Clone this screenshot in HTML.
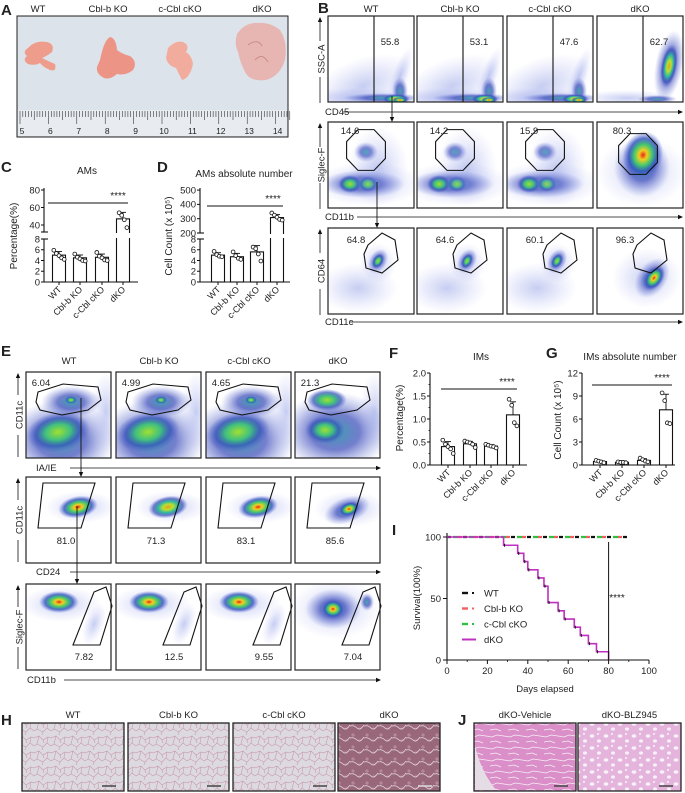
<!DOCTYPE html>
<html><head><meta charset="utf-8"><style>
html,body{margin:0;padding:0;background:#fff}
svg{display:block;font-family:"Liberation Sans",Arial,sans-serif}
</style></head><body>
<svg id="fig" width="685" height="793" viewBox="0 0 685 793" xmlns="http://www.w3.org/2000/svg">
<defs>
<radialGradient id="gHot"><stop offset="0" stop-color="#e8261a"/><stop offset="0.2" stop-color="#f0d020"/><stop offset="0.45" stop-color="#40c870"/><stop offset="0.7" stop-color="#3050c0" stop-opacity="0.8"/><stop offset="1" stop-color="#6070d0" stop-opacity="0"/></radialGradient>
<radialGradient id="gWarm"><stop offset="0" stop-color="#e8a020"/><stop offset="0.25" stop-color="#b8e030"/><stop offset="0.5" stop-color="#30b8a0"/><stop offset="0.75" stop-color="#3848b8" stop-opacity="0.7"/><stop offset="1" stop-color="#6070d0" stop-opacity="0"/></radialGradient>
<radialGradient id="gGreen"><stop offset="0" stop-color="#a0e030"/><stop offset="0.4" stop-color="#40c080"/><stop offset="0.7" stop-color="#3050b8" stop-opacity="0.7"/><stop offset="1" stop-color="#5060c8" stop-opacity="0"/></radialGradient>
<radialGradient id="gCool"><stop offset="0" stop-color="#40a8b0"/><stop offset="0.45" stop-color="#3848b8" stop-opacity="0.7"/><stop offset="1" stop-color="#7080d8" stop-opacity="0"/></radialGradient>
<radialGradient id="gFaint"><stop offset="0" stop-color="#8090e0" stop-opacity="0.45"/><stop offset="1" stop-color="#a0a8f0" stop-opacity="0"/></radialGradient>
<pattern id="alv" width="17" height="15" patternUnits="userSpaceOnUse">
<rect width="17" height="15" fill="#dcdae0"/>
<path d="M0 3 L5 1 L9 5 L14 2 L17 3 M5 1 L3 9 L9 12 L13 8 L14 2 M3 9 L0 11 M9 12 L8 15 M13 8 L17 11 M9 5 L10 8" stroke="#c58a9c" stroke-width="0.6" fill="none" opacity="0.8"/>
</pattern>
<pattern id="dense" width="14" height="12" patternUnits="userSpaceOnUse">
<rect width="14" height="12" fill="#98687a"/>
<circle cx="3" cy="3" r="1.6" fill="#b88898"/><circle cx="10" cy="8" r="1.8" fill="#a87084"/>
<path d="M0 6 Q4 5 7 8 T14 5" stroke="#e6dde6" stroke-width="0.7" fill="none"/>
</pattern>
<pattern id="veh" width="18" height="12" patternUnits="userSpaceOnUse">
<rect width="18" height="12" fill="#da8fc9"/>
<path d="M0 4 L6 5 L11 3 L18 4 M4 10 L10 9 L15 11" stroke="#f6eef6" stroke-width="0.8" fill="none"/>
</pattern>
<pattern id="blz" width="14" height="12" patternUnits="userSpaceOnUse">
<rect width="14" height="12" fill="#e4b4dd"/>
<ellipse cx="4" cy="4" rx="2.4" ry="1.8" fill="#f8f2f8"/><ellipse cx="11" cy="9" rx="2" ry="1.6" fill="#f8f2f8"/><circle cx="10" cy="2" r="1" fill="#faf6fa"/>
</pattern>
</defs>
<g id="root"></g>
</svg>
<script>
// ---------- data ----------
const groups = ["WT","Cbl-b KO","c-Cbl cKO","dKO"];
const amPctMeans = [5.0, 4.5, 4.6, 47];
const amPctPoints = [[5.9,5.3,4.9,4.5,4.2],[5.2,4.6,4.3,4.0,3.9],[5.5,4.8,4.5,4.1,4.0],[54,51,46,37]];
const amAbsMeans = [5.0, 4.7, 5.6, 308];
const amAbsPoints = [[5.7,5.1,4.8,4.7],[5.6,4.9,4.4,4.2],[6.5,6.2,5.2,3.9],[340,325,310,295,290]];
const imPctMeans = [0.40, 0.46, 0.41, 1.09];
const imPctPoints = [[0.54,0.45,0.40,0.35,0.25],[0.52,0.50,0.48,0.45,0.38],[0.45,0.43,0.41,0.40,0.37],[1.43,1.30,0.92,0.85]];
const imAbsMeans = [0.45, 0.35, 0.6, 7.2];
const imAbsPoints = [[0.6,0.5,0.4,0.3],[0.4,0.35,0.35,0.3],[0.9,0.7,0.5,0.4],[9.4,8.4,5.5,5.4]];
const survDays = [0,28,35,38,40,45,48,50,55,58,63,66,70,74,80];
const survDKO = [100,93.3,86.7,80,73.3,66.7,60,46.7,40,33.3,26.7,20,13.3,6.7,0];
const survCtrlDays = [0,90];
const survCtrl = [100,100];
const survTicksX = [0,20,40,60,80,100];
const survTicksY = [0,50,100];

const NS="http://www.w3.org/2000/svg";
const root=document.getElementById('root');
function mk(tag,attrs,parent){const e=document.createElementNS(NS,tag);for(const k in attrs)e.setAttribute(k,attrs[k]);(parent||root).appendChild(e);return e;}
function txt(x,y,s,size,parent,anchor,extra){const t=mk('text',Object.assign({x:x,y:y,'font-size':size,'text-anchor':anchor||'middle',fill:'#222'},extra||{}),parent);t.textContent=s;return t;}
function line(x1,y1,x2,y2,w,parent){return mk('line',{x1:x1,y1:y1,x2:x2,y2:y2,stroke:'#111','stroke-width':w||1},parent);}
function arrowH(x1,x2,y,parent){line(x1,y,x2-4,y,0.8,parent);mk('path',{d:`M${x2} ${y} L${x2-5} ${y-2.2} L${x2-5} ${y+2.2}Z`,fill:'#111'},parent);}
function arrowV(x,y1,y2,parent){line(x,y1,x,y2+4,0.8,parent);mk('path',{d:`M${x} ${y2} L${x-2.2} ${y2+5} L${x+2.2} ${y2+5}Z`,fill:'#111'},parent);}
function arrowDown(x,y1,y2,parent){line(x,y1,x,y2-4,0.9,parent);mk('path',{d:`M${x} ${y2} L${x-2.2} ${y2-5} L${x+2.2} ${y2-5}Z`,fill:'#111'},parent);}
function panelLabel(x,y,s){const t=txt(x,y,s,15,root,'start',{'font-weight':'bold'});

}

// ---------- Panel A photo ----------
const gA=mk('g',{});


panelLabel(1,15,'A');
[['WT',38],['Cbl-b KO',108],['c-Cbl cKO',180],['dKO',262]].forEach(d=>txt(d[1],12,d[0],9.5,gA));
mk('rect',{x:17,y:16,width:271,height:121,fill:'#d9dee4',stroke:'#222','stroke-width':1},gA);
mk('rect',{x:18,y:17,width:269,height:93,fill:'#dde3ea'},gA);
mk('rect',{x:18,y:110,width:269,height:26,fill:'#e8ecf0'},gA);
for(let i=0;i<=95;i++){const x=20+i*2.84;line(x,111,x,i%10==0?124:(i%5==0?120:117),0.5,gA);}
for(let n=5;n<=14;n++){txt(22+(n-5)*28.4,134,String(n),8.5,gA);}
mk('path',{d:'M28 48 Q35 40 47 42 Q55 44 52 52 Q47 56 42 58 Q50 62 55 64 Q57 72 50 70 Q43 67 40 63 Q35 66 28 64 Q22 60 27 56 Q22 52 28 48Z',fill:'#ee9c8c'},gA);
mk('path',{d:'M100 60 Q104 40 110 37 Q116 38 117 50 Q122 54 130 56 Q138 62 133 70 Q126 76 117 74 Q110 80 104 78 Q96 74 97 67 Z',fill:'#ec9486'},gA);
mk('path',{d:'M168 48 Q175 40 183 42 Q190 45 186 52 Q192 56 193 64 Q190 78 182 80 Q178 72 176 68 Q168 66 166 58 Z',fill:'#f2ac9e'},gA);
mk('path',{d:'M237 34 Q245 22 258 23 Q270 22 280 30 Q288 42 285 60 Q280 76 266 80 Q250 82 245 72 Q240 62 238 52 Q234 44 237 34Z',fill:'#e8b6b2'},gA);
mk('path',{d:'M248 45 Q258 38 262 46 M255 60 Q262 52 268 62',stroke:'#c98d88','stroke-width':1,fill:'none'},gA);

// ---------- flow helper ----------
let clipN=0;
function fbox(x,y,w,h,name,blobs,gate,label,lx,ly){
 const g=mk('g',{});
 
 
 const cid='clp'+(clipN++);
 const cp=mk('clipPath',{id:cid},g);mk('rect',{x:x,y:y,width:w,height:h},cp);
 mk('rect',{x:x,y:y,width:w,height:h,fill:'#fff'},g);
 const inner=mk('g',{'clip-path':`url(#${cid})`},g);
 blobs.forEach(b=>{mk('ellipse',{cx:x+b[0],cy:y+b[1],rx:b[2],ry:b[3],fill:`url(#${b[4]})`,transform:`rotate(${b[5]||0} ${x+b[0]} ${y+b[1]})`},inner);});
 if(gate){ if(gate.v!==undefined){line(x+gate.v,y,x+gate.v,y+h,1.1,g);} else {mk('polygon',{points:gate.map(p=>(x+p[0])+','+(y+p[1])).join(' '),fill:'none',stroke:'#111','stroke-width':1.1},g);} }
 mk('rect',{x:x,y:y,width:w,height:h,fill:'none',stroke:'#222','stroke-width':1.2},g);
 if(label)txt(x+lx,y+ly,label,9.5,g,'middle');
 return g;
}
function octo(cx,cy,r){const p=[];for(let i=0;i<8;i++){const a=Math.PI/8+i*Math.PI/4;p.push([cx+r*Math.cos(a),cy+r*Math.sin(a)*1.05]);}return p;}

// ---------- Panel B ----------
panelLabel(318,13,'B');
const bx=[328,417,507,597], by=[16,122,228], BW=86, BH=86;
groups.forEach((gname,i)=>{const t=txt(bx[i]+43,12,gname,9.5);

});
const bRow1Lab=['55.8','53.1','47.6','62.7'];
const bRow2Lab=['14.6','14.2','15.9','80.3'];
const bRow3Lab=['64.8','64.6','60.1','96.3'];
for(let i=0;i<4;i++){
 const row1 = i<3 ? [[30,82,60,10,'gFaint'],[35,70,55,28,'gFaint',-20],[55,82,40,5,'gCool'],[72,60,8,30,'gFaint',20],[72,75,8,14,'gCool'],[68,83,14,5,'gWarm'],[72,84,8,3,'gHot']]
   : [[30,82,50,8,'gFaint'],[72,50,14,36,'gCool',10],[72,50,8,22,'gWarm',10],[60,83,20,4,'gCool']];
 fbox(bx[i],by[0],BW,BH,'b-ssc-cd45-plot-'+(i+1),row1,{v:46},bRow1Lab[i],62,29);
 const row2 = i<3 ? [[40,62,55,22,'gFaint'],[35,62,42,14,'gCool'],[22,62,12,9,'gGreen'],[40,62,10,8,'gGreen'],[38,30,12,10,'gCool'],[50,45,30,40,'gFaint']]
   : [[45,50,45,35,'gFaint'],[45,45,28,30,'gCool'],[46,33,20,24,'gHot',15]];
 fbox(bx[i],by[1],BW,BH,'b-siglecf-cd11b-plot-'+(i+1),row2,octo(i<3?38:41,i<3?28:32,21),bRow2Lab[i],i<3?22:25,12);
 const row3 = i<3 ? [[30,60,40,25,'gFaint'],[50,35,18,20,'gFaint'],[50,33,9,13,'gCool',30],[50,33,5,8,'gGreen',30]]
   : [[50,50,35,30,'gFaint'],[55,50,15,22,'gCool',35],[57,50,9,14,'gHot',35]];
 fbox(bx[i],by[2],BW,BH,'b-cd64-cd11c-plot-'+(i+1),row3,[[40,17],[54,5],[67,12],[70,32],[54,45],[38,40],[36,26]],bRow3Lab[i],28,15);
}
arrowH(343,683,112);txt(325,115,'CD45',9.5,root,'start');
arrowH(357,683,217);txt(325,220,'CD11b',9.5,root,'start');
arrowH(350,683,322);txt(325,325,'CD11c',9.5,root,'start');
[['SSC-A',59,16],['Siglec-F',165,122],['CD64',271,228]].forEach(d=>{arrowV(320,d[1]+44,d[2]+1);mk('rect',{x:314,y:d[1]-18,width:12,height:36,fill:'#fff'});txt(322,d[1],d[0],9.5,root,'middle',{transform:`rotate(-90 322 ${d[1]})`,'dominant-baseline':'middle'});});
arrowDown(392,96,122);
arrowDown(377,182,228);

// ---------- bar chart helper ----------
function barChart(opts){
 const g=mk('g',{});
 
 
 const ax=opts.ax, y0=opts.y0, xend=opts.xend, yf=opts.yf;
 txt(opts.tx,opts.ty,opts.title,10,g);
 const yt=txt(opts.ytx,opts.yty,opts.ytitle,10,g,'middle',{transform:`rotate(-90 ${opts.ytx} ${opts.yty})`});
 
 
 opts.means.forEach((m,i)=>{
  const cx=opts.cx[i];
  const b=mk('rect',{x:cx-6.5,y:yf(m),width:13,height:y0-yf(m),fill:'#fff',stroke:'#111','stroke-width':1.1},g);
  
  
  const pts=opts.points[i];
  const mean=pts.reduce((a,b)=>a+b,0)/pts.length;
  const sd=Math.sqrt(pts.reduce((a,b)=>a+(b-mean)*(b-mean),0)/(pts.length-1));
  line(cx,yf(m+sd),cx,yf(m),0.9,g);line(cx-3,yf(m+sd),cx+3,yf(m+sd),0.9,g);
  pts.forEach((p,j)=>{const c=mk('circle',{cx:cx+(j-(pts.length-1)/2)*2.6,cy:yf(p),r:1.9,fill:'#fff',stroke:'#111','stroke-width':0.8},g);
   
   });
 });
 line(ax,y0,xend,y0,1.1,g);
 opts.cx.forEach(c=>line(c,y0,c,y0+3,1,g));
 if(opts.breakY){
  line(ax,y0,ax,opts.breakY[1],1.1,g);line(ax,opts.breakY[0],ax,opts.topY,1.1,g);
  line(ax-3,opts.breakY[0],ax+4,opts.breakY[0],1.1,g);line(ax-3,opts.breakY[1],ax+4,opts.breakY[1],1.1,g);
  mk('rect',{x:opts.cx[3]-8,y:opts.breakY[0]+1,width:16,height:opts.breakY[1]-opts.breakY[0]-2,fill:'#fff'},g);
 } else line(ax,y0,ax,opts.topY,1.1,g);
 opts.ticks.forEach(t=>{line(ax-3,yf(t),ax,yf(t),1,g);txt(ax-4,yf(t)+3.3,opts.tickFmt?opts.tickFmt(t):String(t),9.5,g,'end');});
 if(opts.minor)opts.minor.forEach(t=>line(ax-1.5,yf(t),ax,yf(t),0.8,g));
 groups.forEach((s,i)=>{const x=opts.cx[i]+3,y=y0+8;const t=txt(x,y,s,9,g,'end',{transform:`rotate(-45 ${x} ${y})`});
  
  });
 line(opts.sig[0],opts.sig[2],opts.sig[1],opts.sig[2],1,g);
 txt(opts.sig[1]-10,opts.sig[2]-4,'****',10,g,'middle');
 return g;
}
const yC=v=> v<=8 ? 282-v*(43/8) : 225-(v-40)*0.875;
barChart({name:'chart-am-percentage',ax:44,y0:282,xend:138,topY:188,yf:yC,means:amPctMeans,points:amPctPoints,cx:[59,80,102,123],
 ticks:[0,2,4,6,8,40,60,80],breakY:[232,239],title:'AMs',tx:87,ty:174,ytitle:'Percentage(%)',ytx:17,yty:236,sig:[48,128,203]});
const yD=v=> v<=8 ? 282-v*(43/8) : 233-(v-200)*0.143;
barChart({name:'chart-am-absolute',ax:200,y0:282,xend:290,topY:188,yf:yD,means:amAbsMeans,points:amAbsPoints,cx:[218,237,257,277],
 ticks:[0,2,4,6,8,200,300,400,500],breakY:[233,239],title:'AMs absolute number',tx:244,ty:177,ytitle:'Cell Count (x 10\u2075)',ytx:172,yty:236,sig:[207,283,206]});
panelLabel(1,172,'C');panelLabel(157,172,'D');

// ---------- Panel E ----------
panelLabel(1,356,'E');
const ex=[26,116,206,295], ey=[372,477,584];
groups.forEach((gname,i)=>{const t=txt(ex[i]+43,364,gname,9.5);

});
const eRow1Lab=['6.04','4.99','4.65','21.3'];
const eRow2Lab=['81.0','71.3','83.1','85.6'];
const eRow3Lab=['7.82','12.5','9.55','7.04'];
for(let i=0;i<4;i++){
 const r1 = i<3 ? [[35,68,55,40,'gCool'],[32,60,32,20,'gGreen',-10],[45,30,30,16,'gCool'],[45,28,6,4,'gGreen'],[80,40,15,40,'gFaint']]
   : [[40,60,55,40,'gCool'],[30,58,20,14,'gGreen'],[32,28,20,11,'gGreen'],[80,40,15,40,'gFaint']];
 fbox(ex[i],ey[0],85,86,'e-cd11c-iaie-plot-'+(i+1),r1,[[12,20],[37,12],[72,15],[75,28],[62,38],[36,43],[14,38],[10,30]],eRow1Lab[i],15,14);
 const r2 = i<3 ? [[55,30,36,16,'gFaint'],[52,30,20,11,i==1?'gWarm':'gHot',-10]] : [[55,32,36,18,'gFaint'],[52,33,24,13,'gCool',-20],[54,32,11,7,'gHot',-20]];
 fbox(ex[i],ey[1],85,86,'e-cd11c-cd24-plot-'+(i+1),r2,[[17,6],[69,6],[55,51],[12,51]],eRow2Lab[i],40,67);
 const r3 = i<3 ? [[35,20,40,18,'gFaint'],[33,18,20,11,'gHot'],[68,40,10,22,'gFaint',20]] : [[40,25,45,30,'gFaint'],[38,25,28,20,'gCool'],[38,25,12,10,'gHot'],[72,18,7,9,'gCool']];
 fbox(ex[i],ey[2],85,86,'e-siglecf-cd11b-plot-'+(i+1),r3,[[47,61],[68,8],[80,3],[86,22],[74,61]],eRow3Lab[i],58,76);
}
arrowH(70,381,468);txt(36,471,'IA/IE',9.5,root,'start');
arrowH(70,381,572);txt(36,575,'CD24',9.5,root,'start');
arrowH(64,381,680);txt(27,683,'CD11b',9.5,root,'start');
[['CD11c',415,372],['CD11c',520,477],['Siglec-F',627,584]].forEach(d=>{arrowV(18,d[1]+42,d[2]+1);mk('rect',{x:12,y:d[1]-20,width:12,height:40,fill:'#fff'});txt(20,d[1],d[0],9.5,root,'middle',{transform:`rotate(-90 20 ${d[1]})`,'dominant-baseline':'middle'});});
arrowDown(81,398,477);
arrowDown(77,506,584);

// ---------- F / G ----------
panelLabel(389,358,'F');panelLabel(546,358,'G');
const yF=v=>465-v*46;
barChart({name:'chart-im-percentage',ax:430,y0:465,xend:527,topY:373,yf:yF,means:imPctMeans,points:imPctPoints,cx:[448,470,491,513],
 ticks:[0,0.5,1.0,1.5,2.0],tickFmt:t=>t.toFixed(1),minor:[0.25,0.75,1.25,1.75],title:'IMs',tx:481,ty:360,ytitle:'Percentage(%)',ytx:403,yty:418,sig:[441,517,389]});
const yG=v=>465-v*(92/12);
barChart({name:'chart-im-absolute',ax:582,y0:465,xend:675,topY:373,yf:yG,means:imAbsMeans,points:imAbsPoints,cx:[600,622,644,666],
 ticks:[0,3,6,9,12],title:'IMs absolute number',tx:630,ty:360,ytitle:'Cell Count (x 10\u2075)',ytx:561,yty:420,sig:[592,672,385]});

// ---------- I survival ----------
panelLabel(392,535,'I');
const gI=mk('g',{});


const sx=d=>447+d*2.02, sy=v=>660-v*1.23;
line(447,533,447,660,1.1,gI);line(447,660,649,660,1.1,gI);
survTicksX.forEach(t=>{line(sx(t),660,sx(t),664,1,gI);txt(sx(t),674,String(t),9.5,gI);});
[10,30,50,70,90].forEach(t=>line(sx(t),660,sx(t),662,0.8,gI));
survTicksY.forEach(t=>{line(443,sy(t),447,sy(t),1,gI);txt(441,sy(t)+3.3,String(t),9.5,gI,'end');});
txt(545,692,'Days elapsed',9.5,gI);
txt(420,598,'Survival(100%)',9.5,gI,'middle',{transform:'rotate(-90 420 598)'});
const ctrl=(col,dash,off)=>mk('line',{x1:sx(survCtrlDays[0]),y1:sy(survCtrl[0]),x2:sx(survCtrlDays[1]),y2:sy(survCtrl[1]),stroke:col,'stroke-width':2.2,'stroke-dasharray':dash,'stroke-dashoffset':off},gI);
const lWT=ctrl('#111','4 12',0);


const lCb=ctrl('#f06060','4 12',5);


const lCc=ctrl('#30c040','5 11',10);


let d=`M${sx(survDays[0])} ${sy(survDKO[0])}`;
for(let i=1;i<survDays.length;i++){d+=` H${sx(survDays[i])} V${sy(survDKO[i])}`;}
const pd=mk('path',{d:d,fill:'none',stroke:'#c030c0','stroke-width':1.6},gI);


for(let i=1;i<survDays.length-1;i++){line(sx(survDays[i])+1,sy(survDKO[i])-1.5,sx(survDays[i])+1,sy(survDKO[i])+1.5,1,gI);}
line(sx(80),sy(96),sx(80),660,1,gI);
txt(617,601,'****',10,gI);
const leg=[['WT','#111'],['Cbl-b KO','#f06060'],['c-Cbl cKO','#30c040'],['dKO','#c030c0']];
leg.forEach((l,i)=>{const y=593+i*15.5;const lg=mk('g',{},gI);
 
 
 if(i<3){mk('line',{x1:462,y1:y,x2:468,y2:y,stroke:l[1],'stroke-width':2.4},lg);mk('rect',{x:472,y:y-1,width:2,height:2,fill:l[1]},lg);}
 else mk('line',{x1:462,y1:y,x2:476,y2:y,stroke:l[1],'stroke-width':2},lg);
 txt(484,y+3.5,l[0],9.5,lg,'start');});

// ---------- H / J histology ----------
panelLabel(1,725,'H');panelLabel(458,725,'J');
const hx=[[22,124,'WT','url(#alv)'],[128,229,'Cbl-b KO','url(#alv)'],[233,335,'c-Cbl cKO','url(#alv)'],[338,440,'dKO','url(#dense)'],[474,576,'dKO-Vehicle','url(#veh)'],[578,681,'dKO-BLZ945','url(#blz)']];
hx.forEach((h,i)=>{const g=mk('g',{});
 
 
 txt((h[0]+h[1])/2,718,h[2],9.5,g);
 mk('rect',{x:h[0],y:723,width:h[1]-h[0],height:68,fill:h[3],stroke:'#222','stroke-width':1.3},g);
 if(i==4)mk('path',{d:`M${h[0]+1} 745 Q${h[0]+6} 770 ${h[0]+22} 790 L${h[0]+1} 790Z`,fill:'#e4dde6'},g);
 line(h[1]-22,786,h[1]-8,786,1.5,g).setAttribute('stroke',i==3?'#ddd':'#444');
});
</script>
</body></html>
